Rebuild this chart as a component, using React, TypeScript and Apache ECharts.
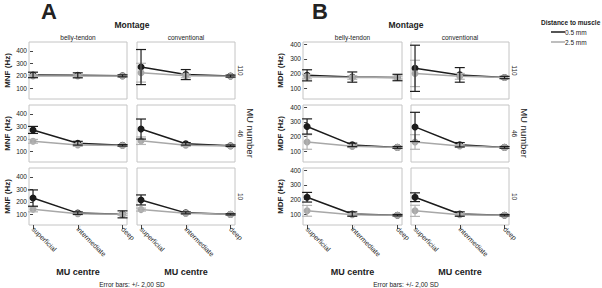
import React, { useEffect, useRef } from "react";
import * as echarts from "echarts";

// ---------- data ----------
const categories = ["superficial", "intermediate", "deep"];
const rowLabels = ["110", "46", "10"]; // MU number facets (rows)
const montages = ["belly-tendon", "conventional"];
const distances = ["0.5 mm", "2.5 mm"];
const yTicks = [100, 200, 300, 400];

// Panel A – MNF (Hz); rows: 110, 46, 10 ; error = 2 SD half-width
const mnfBellyMean05 = [[207, 204, 200], [271, 165, 148], [230, 110, 100]];
const mnfBellyErr05 = [[22, 20, 8], [28, 15, 6], [65, 10, 28]];
const mnfBellyMean25 = [[198, 198, 198], [180, 150, 147], [140, 105, 100]];
const mnfBellyErr25 = [[10, 10, 6], [15, 10, 6], [20, 8, 8]];
const mnfConvMean05 = [[270, 210, 198], [278, 160, 145], [215, 112, 100]];
const mnfConvErr05 = [[140, 40, 8], [80, 10, 6], [40, 8, 5]];
const mnfConvMean25 = [[225, 200, 196], [185, 148, 143], [138, 108, 100]];
const mnfConvErr25 = [[75, 15, 6], [30, 8, 6], [12, 6, 5]];

// Panel B – MDF (Hz)
const mdfBellyMean05 = [[187, 175, 172], [268, 142, 125], [215, 100, 92]];
const mdfBellyErr05 = [[38, 35, 22], [52, 12, 6], [33, 15, 5]];
const mdfBellyMean25 = [[178, 172, 172], [162, 132, 125], [122, 95, 92]];
const mdfBellyErr25 = [[15, 12, 10], [50, 8, 6], [37, 6, 5]];
const mdfConvMean05 = [[235, 190, 172], [265, 143, 125], [215, 100, 92]];
const mdfConvErr05 = [[158, 50, 8], [100, 15, 6], [30, 15, 5]];
const mdfConvMean25 = [[200, 180, 172], [162, 135, 125], [122, 95, 92]];
const mdfConvErr25 = [[90, 20, 6], [50, 8, 6], [38, 6, 5]];

const FONT = "Liberation Sans, Arial, Helvetica, sans-serif";
const DARK = "#1c1c1c";
const GREY = "#a8a8a8";
const GREY_ERR = "#b4b4b4";

export default function App() {
  const ref = useRef<HTMLDivElement>(null);

  useEffect(() => {
    if (!ref.current) return;
    const chart = echarts.init(ref.current, undefined, { renderer: "svg" });

    const panels = [
      {
        letter: "A",
        letterX: 49,
        yTitle: "MNF (Hz)",
        yTitleX: 7,
        min: 15,
        max: 470,
        colLeft: [29, 137],
        colWidth: [98, 98],
        data: [
          [mnfBellyMean05, mnfBellyErr05, mnfBellyMean25, mnfBellyErr25],
          [mnfConvMean05, mnfConvErr05, mnfConvMean25, mnfConvErr25],
        ],
      },
      {
        letter: "B",
        letterX: 320,
        yTitle: "MDF (Hz)",
        yTitleX: 280,
        min: 25,
        max: 415,
        colLeft: [303, 411],
        colWidth: [99, 98],
        data: [
          [mdfBellyMean05, mdfBellyErr05, mdfBellyMean25, mdfBellyErr25],
          [mdfConvMean05, mdfConvErr05, mdfConvMean25, mdfConvErr25],
        ],
      },
    ];
    const rowTop = [42, 105, 168];
    const rowH = 57;

    const grids: any[] = [];
    const xAxes: any[] = [];
    const yAxes: any[] = [];
    const series: any[] = [];
    const graphics: any[] = [];

    const text = (t: string, x: number, y: number, size: number, o: any = {}) => ({
      type: "text",
      x,
      y,
      rotation: o.rotation || 0,
      style: {
        text: t,
        x: 0,
        y: 0,
        fontFamily: FONT,
        fontSize: size,
        fontWeight: o.bold ? "bold" : "normal",
        fill: o.fill || "#222",
        align: o.align || "center",
        verticalAlign: o.va || "middle",
      },
    });

    const errRender = (color: string) => (params: any, api: any) => {
      const x = api.value(0);
      const lo = api.coord([x, api.value(1)]);
      const hi = api.coord([x, api.value(2)]);
      const w = 5;
      const st = { stroke: color, lineWidth: 1.2 };
      return {
        type: "group",
        children: [
          { type: "line", shape: { x1: lo[0], y1: lo[1], x2: hi[0], y2: hi[1] }, style: st },
          { type: "line", shape: { x1: lo[0] - w, y1: lo[1], x2: lo[0] + w, y2: lo[1] }, style: st },
          { type: "line", shape: { x1: hi[0] - w, y1: hi[1], x2: hi[0] + w, y2: hi[1] }, style: st },
        ],
      };
    };

    panels.forEach((p) => {
      const left0 = p.colLeft[0];
      const right1 = p.colLeft[1] + p.colWidth[1];
      const centre = (left0 + right1) / 2;
      // titles
      graphics.push(text(p.letter, p.letterX, 11, 22, { bold: true }));
      graphics.push(text("Montage", centre, 25, 8.5, { bold: true }));
      rowTop.forEach((t) => {
        graphics.push(text(p.yTitle, p.yTitleX, t + rowH / 2, 8, { bold: true, rotation: Math.PI / 2 }));
      });
      graphics.push(text("MU number", right1 + 15, 133, 9.5, { rotation: -Math.PI / 2 }));
      graphics.push(text("Error bars: +/- 2,00 SD", centre, 284, 6.5));
      rowLabels.forEach((rl, r) => {
        graphics.push(text(rl, right1 + 5, rowTop[r] + rowH / 2, 6.5, { rotation: -Math.PI / 2 }));
      });

      montages.forEach((m, c) => {
        const left = p.colLeft[c];
        const width = p.colWidth[c];
        graphics.push(text(m, left + width / 2, 37, 6.5));
        graphics.push(text("MU centre", left + width / 2, 272, 9, { bold: true }));
        const [mean05, err05, mean25, err25] = p.data[c];

        rowLabels.forEach((_, r) => {
          const gi = grids.length;
          const bottomRow = r === rowLabels.length - 1;
          grids.push({
            left,
            top: rowTop[r],
            width,
            height: rowH,
            show: true,
            borderColor: "#c4c4c4",
            borderWidth: 1,
            backgroundColor: "transparent",
          });
          xAxes.push({
            type: "value",
            gridIndex: gi,
            min: -0.09,
            max: 2.1,
            axisLine: { show: false },
            splitLine: { show: false },
            axisTick: {
              show: bottomRow,
              customValues: [0, 1, 2],
              length: 4,
              lineStyle: { color: "#444", width: 1 },
            },
            axisLabel: {
              show: bottomRow,
              customValues: [0, 1, 2],
              formatter: (v: number) => categories[Math.round(v)] || "",
              rotate: -45,
              align: "left",
              verticalAlign: "middle",
              fontSize: 7,
              fontFamily: FONT,
              color: "#222",
              margin: 3,
            },
          });
          yAxes.push({
            type: "value",
            gridIndex: gi,
            min: p.min,
            max: p.max,
            axisLine: { show: false },
            splitLine: { show: false },
            axisTick: {
              show: c === 0,
              customValues: yTicks,
              length: 3,
              lineStyle: { color: "#444", width: 1 },
            },
            axisLabel: {
              show: c === 0,
              customValues: yTicks,
              fontSize: 6.5,
              fontFamily: FONT,
              color: "#222",
              margin: 2,
            },
          });
          const pts05 = mean05[r].map((v, i) => [i, v]);
          const pts25 = mean25[r].map((v, i) => [i, v]);
          const e05 = mean05[r].map((v, i) => [i, v - err05[r][i], v + err05[r][i]]);
          const e25 = mean25[r].map((v, i) => [i, v - err25[r][i], v + err25[r][i]]);
          series.push({
            type: "line",
            name: distances[0],
            xAxisIndex: gi,
            yAxisIndex: gi,
            data: pts05,
            symbol: "circle",
            symbolSize: 7,
            lineStyle: { color: DARK, width: 1.5 },
            itemStyle: { color: DARK },
            z: 2,
          });
          series.push({
            type: "line",
            name: distances[1],
            xAxisIndex: gi,
            yAxisIndex: gi,
            data: pts25,
            symbol: "circle",
            symbolSize: 7,
            lineStyle: { color: GREY, width: 1.5 },
            itemStyle: { color: GREY },
            z: 3,
          });
          series.push({
            type: "custom",
            xAxisIndex: gi,
            yAxisIndex: gi,
            data: e25,
            encode: { x: 0, y: [1, 2] },
            renderItem: errRender(GREY_ERR),
            z: 4,
          });
          series.push({
            type: "custom",
            xAxisIndex: gi,
            yAxisIndex: gi,
            data: e05,
            encode: { x: 0, y: [1, 2] },
            renderItem: errRender(DARK),
            z: 5,
          });
        });
      });
    });

    // legend
    graphics.push(text("Distance to muscle", 541, 22, 6.5, { bold: true, align: "left" }));
    graphics.push({
      type: "line",
      shape: { x1: 551, y1: 32, x2: 565, y2: 32 },
      style: { stroke: DARK, lineWidth: 1.5 },
    });
    graphics.push(text(distances[0], 565, 32, 6.5, { align: "left" }));
    graphics.push({
      type: "line",
      shape: { x1: 551, y1: 42, x2: 565, y2: 42 },
      style: { stroke: GREY, lineWidth: 1.5 },
    });
    graphics.push(text(distances[1], 565, 42, 6.5, { align: "left" }));

    chart.setOption({
      animation: false,
      backgroundColor: "#ffffff",
      grid: grids,
      xAxis: xAxes,
      yAxis: yAxes,
      series,
      graphic: graphics,
    });

    return () => chart.dispose();
  }, []);

  return (
    <div
      ref={ref}
      style={{ position: "absolute", left: 0, top: 0, width: 602, height: 288 }}
    />
  );
}
